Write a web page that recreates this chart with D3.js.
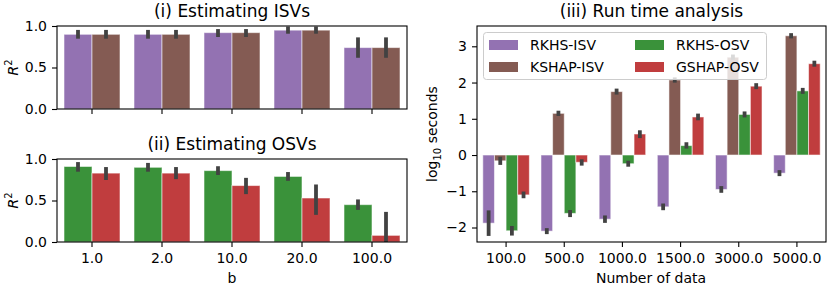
<!DOCTYPE html>
<html lang="en">
	<head>
		<meta charset="utf-8">
		<title>ISV / OSV estimation</title>
		<script type="text/javascript" src="https://cdn.jsdelivr.net/npm/d3@7"></script>
		<style type="text/css">
			body { margin: 0; background: #fff; }
			text { font-family: "DejaVu Sans", sans-serif; fill: #000; }
		</style>
	</head>
	<body>
		<script type="text/javascript">

			//Width and height
			var w = 830;
			var h = 291;

			// ---- data ----
			var bCats = ["1.0", "2.0", "10.0", "20.0", "100.0"];

			var rkhsIsv   = [0.90, 0.90, 0.92, 0.95, 0.74];
			var rkhsIsvLo = [0.87, 0.87, 0.89, 0.93, 0.64];
			var rkhsIsvHi = [0.93, 0.93, 0.94, 0.97, 0.84];
			var kshapIsv   = [0.90, 0.90, 0.92, 0.95, 0.74];
			var kshapIsvLo = [0.87, 0.87, 0.89, 0.93, 0.64];
			var kshapIsvHi = [0.93, 0.93, 0.94, 0.97, 0.84];

			var rkhsOsv   = [0.91, 0.90, 0.86, 0.79, 0.45];
			var rkhsOsvLo = [0.87, 0.87, 0.83, 0.76, 0.41];
			var rkhsOsvHi = [0.94, 0.93, 0.89, 0.82, 0.49];
			var gshapOsv   = [0.83, 0.83, 0.68, 0.53, 0.08];
			var gshapOsvLo = [0.77, 0.78, 0.60, 0.35, -0.05];
			var gshapOsvHi = [0.88, 0.88, 0.75, 0.67, 0.34];

			var nCats = ["100.0", "500.0", "1000.0", "1500.0", "3000.0", "5000.0"];

			var tRkhsIsv   = [-1.88, -2.10, -1.77, -1.43, -0.95, -0.50];
			var tRkhsIsvLo = [-2.18, -2.13, -1.82, -1.47, -0.99, -0.53];
			var tRkhsIsvHi = [-1.58, -2.07, -1.72, -1.39, -0.91, -0.47];
			var tKshapIsv   = [-0.16, 1.15, 1.75, 2.07, 2.70, 3.29];
			var tKshapIsvLo = [-0.22, 1.13, 1.72, 2.05, 2.68, 3.27];
			var tKshapIsvHi = [-0.10, 1.17, 1.78, 2.09, 2.72, 3.31];
			var tRkhsOsv   = [-2.09, -1.61, -0.24, 0.26, 1.12, 1.77];
			var tRkhsOsvLo = [-2.17, -1.66, -0.27, 0.23, 1.09, 1.74];
			var tRkhsOsvHi = [-2.01, -1.57, -0.21, 0.30, 1.15, 1.80];
			var tGshapOsv   = [-1.10, -0.20, 0.58, 1.05, 1.90, 2.52];
			var tGshapOsvLo = [-1.14, -0.24, 0.52, 1.01, 1.87, 2.49];
			var tGshapOsvHi = [-1.06, -0.17, 0.63, 1.09, 1.93, 2.55];

			var r2Ticks = [0, 0.5, 1.0];
			var logTicks = [-2, -1, 0, 1, 2, 3];

			var cPurple = "#9372b2", cBrown = "#845b53", cGreen = "#3a923a", cRed = "#c03d3e";
			var errColor = "#424242";

			//Create SVG element
			var svg = d3.select("body")
						.append("svg")
						.attr("width", w)
						.attr("height", h);

			var clipId = 0;

			// one grouped bar panel
			function panel(opt) {
				var g = svg.append("g");
				var x = d3.scaleBand()
						  .domain(opt.cats)
						  .range([opt.x0, opt.x1])
						  .paddingInner(0.2)
						  .paddingOuter(0.1);
				var y = d3.scaleLinear()
						  .domain(opt.yDomain)
						  .range([opt.y1, opt.y0]);
				var xs = d3.scaleBand()
						   .domain(d3.range(opt.series.length))
						   .range([0, x.bandwidth()]);

				clipId++;
				svg.append("clipPath").attr("id", "clip" + clipId)
					.append("rect")
					.attr("x", opt.x0).attr("y", opt.y0)
					.attr("width", opt.x1 - opt.x0).attr("height", opt.y1 - opt.y0);

				var plot = g.append("g").attr("clip-path", "url(#clip" + clipId + ")");

				opt.series.forEach(function(s, si) {
					plot.selectAll(null)
						.data(s.v)
						.enter()
						.append("rect")
						.attr("x", function(d, i) { return x(opt.cats[i]) + xs(si); })
						.attr("width", xs.bandwidth())
						.attr("y", function(d) { return Math.min(y(d), y(0)); })
						.attr("height", function(d) { return Math.abs(y(d) - y(0)); })
						.style("fill", s.color)
						.style("stroke", "#fff")
						.style("stroke-opacity", 0.55)
						.style("stroke-width", 1);
				});

				opt.series.forEach(function(s, si) {
					plot.selectAll(null)
						.data(s.v)
						.enter()
						.append("line")
						.attr("x1", function(d, i) { return x(opt.cats[i]) + xs(si) + xs.bandwidth() / 2; })
						.attr("x2", function(d, i) { return x(opt.cats[i]) + xs(si) + xs.bandwidth() / 2; })
						.attr("y1", function(d, i) { return y(s.lo[i]); })
						.attr("y2", function(d, i) { return y(s.hi[i]); })
						.style("stroke", errColor)
						.style("stroke-width", 3.8)
						.style("stroke-linecap", "square");
				});

				// axes
				var xAxis = g.append("g")
					.attr("transform", "translate(0," + opt.y1 + ")")
					.call(d3.axisBottom(x).tickSize(5).tickPadding(5).tickFormat(opt.showX ? null : ""));
				var yAxis = g.append("g")
					.attr("transform", "translate(" + opt.x0 + ",0)")
					.call(d3.axisLeft(y).tickValues(opt.yTicks).tickSize(5).tickPadding(5)
						.tickFormat(opt.yFmt));

				[xAxis, yAxis].forEach(function(a) {
					a.select(".domain").remove();
					a.selectAll(".tick line").style("stroke", "#000").style("stroke-width", 1.1);
					a.selectAll(".tick text").style("font-size", "14px")
						.style("font-family", "DejaVu Sans, sans-serif").style("fill", "#000");
				});
				xAxis.selectAll(".tick text").attr("dy", "0.71em").attr("y", 11);

				// frame
				g.append("rect")
					.attr("x", opt.x0).attr("y", opt.y0)
					.attr("width", opt.x1 - opt.x0).attr("height", opt.y1 - opt.y0)
					.style("fill", "none")
					.style("stroke", "#000")
					.style("stroke-width", 1.1);

				// title
				g.append("text")
					.attr("x", (opt.x0 + opt.x1) / 2)
					.attr("y", opt.y0 - 9)
					.attr("text-anchor", "middle")
					.style("font-size", "17px")
					.text(opt.title);

				return { g: g, x: x, y: y };
			}

			var pA = panel({
				cats: bCats, x0: 57, x1: 407, y0: 26, y1: 109,
				yDomain: [0, 1], yTicks: r2Ticks, yFmt: d3.format(".1f"),
				showX: false, title: "(i) Estimating ISVs",
				series: [
					{ v: rkhsIsv, lo: rkhsIsvLo, hi: rkhsIsvHi, color: cPurple },
					{ v: kshapIsv, lo: kshapIsvLo, hi: kshapIsvHi, color: cBrown }
				]
			});

			var pB = panel({
				cats: bCats, x0: 57, x1: 407, y0: 159, y1: 242,
				yDomain: [0, 1], yTicks: r2Ticks, yFmt: d3.format(".1f"),
				showX: true, title: "(ii) Estimating OSVs",
				series: [
					{ v: rkhsOsv, lo: rkhsOsvLo, hi: rkhsOsvHi, color: cGreen },
					{ v: gshapOsv, lo: gshapOsvLo, hi: gshapOsvHi, color: cRed }
				]
			});

			var pC = panel({
				cats: nCats, x0: 477, x1: 826, y0: 26, y1: 242,
				yDomain: [-2.4, 3.56], yTicks: logTicks,
				yFmt: function(d) { return d < 0 ? "\u2212" + Math.abs(d) : String(d); },
				showX: true, title: "(iii) Run time analysis",
				series: [
					{ v: tRkhsIsv, lo: tRkhsIsvLo, hi: tRkhsIsvHi, color: cPurple },
					{ v: tKshapIsv, lo: tKshapIsvLo, hi: tKshapIsvHi, color: cBrown },
					{ v: tRkhsOsv, lo: tRkhsOsvLo, hi: tRkhsOsvHi, color: cGreen },
					{ v: tGshapOsv, lo: tGshapOsvLo, hi: tGshapOsvHi, color: cRed }
				]
			});

			// axis labels
			function r2Label(cy) {
				var t = svg.append("text")
					.attr("transform", "translate(18," + cy + ") rotate(-90)")
					.attr("text-anchor", "middle")
					.style("font-size", "14px");
				t.append("tspan").style("font-style", "italic").text("R");
				t.append("tspan").attr("dy", -6).style("font-size", "10px").text("2");
			}
			r2Label(67.5);
			r2Label(200.5);

			var lt = svg.append("text")
				.attr("transform", "translate(437,134) rotate(-90)")
				.attr("text-anchor", "middle")
				.style("font-size", "14px");
			lt.append("tspan").text("log");
			lt.append("tspan").attr("dy", 4).style("font-size", "10px").text("10");
			lt.append("tspan").attr("dy", -4).text(" seconds");

			svg.append("text")
				.attr("x", 232).attr("y", 283)
				.attr("text-anchor", "middle")
				.style("font-size", "14px")
				.text("b");

			svg.append("text")
				.attr("x", 651).attr("y", 283)
				.attr("text-anchor", "middle")
				.style("font-size", "14px")
				.text("Number of data");

			// legend
			var legendNames = ["RKHS-ISV", "KSHAP-ISV", "RKHS-OSV", "GSHAP-OSV"];
			var legendColors = [cPurple, cBrown, cGreen, cRed];

			var leg = svg.append("g");
			leg.append("rect")
				.attr("x", 483.5).attr("y", 32.5)
				.attr("width", 283).attr("height", 47)
				.attr("rx", 3)
				.style("fill", "#fff")
				.style("fill-opacity", 0.8)
				.style("stroke", "#ccc")
				.style("stroke-width", 1);

			var items = leg.selectAll("g.item")
				.data(legendNames)
				.enter()
				.append("g")
				.attr("transform", function(d, i) {
					var col = Math.floor(i / 2), row = i % 2;
					return "translate(" + (489 + col * 146) + "," + (40 + row * 22) + ")";
				});
			items.append("rect")
				.attr("width", 29).attr("height", 10)
				.style("fill", function(d, i) { return legendColors[i]; });
			items.append("text")
				.attr("x", 41).attr("y", 10)
				.style("font-size", "14px")
				.text(function(d) { return d; });

		</script>
	</body>
</html>
